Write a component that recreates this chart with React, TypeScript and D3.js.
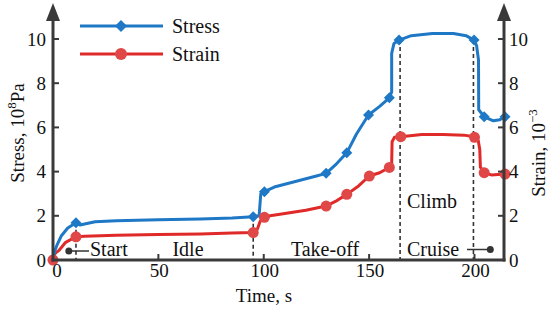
import * as d3 from "d3";

// stress curve (10^8 Pa) over time (s)
const stressTime = [0, 1, 2, 4, 7, 10.9, 12.8, 20, 30, 50, 70, 85, 95, 97.8, 98.6, 100.3, 105, 115, 125, 129.6, 134, 139.4, 144, 149.7, 155, 159.6, 160.7, 160.7, 161.8, 164.2, 170, 180, 190, 196, 199.8, 201, 201.9, 202, 204.6, 209, 212, 214.5];
const stressVals = [0, 0.45, 0.7, 1.1, 1.45, 1.69, 1.58, 1.73, 1.78, 1.82, 1.86, 1.9, 1.96, 2.0, 3.0, 3.09, 3.3, 3.55, 3.8, 3.92, 4.3, 4.85, 5.7, 6.56, 6.95, 7.34, 7.6, 9.35, 9.8, 9.95, 10.15, 10.25, 10.25, 10.15, 9.95, 9.7, 9.05, 6.8, 6.48, 6.3, 6.35, 6.48];
const stressMarkT = [0, 10.9, 95, 100.3, 129.6, 139.4, 149.7, 159.6, 164.2, 199.8, 204.6, 214.5];
const stressMarkV = [0, 1.69, 1.96, 3.09, 3.92, 4.85, 6.56, 7.34, 9.95, 9.95, 6.48, 6.48];

// strain curve (10^-3)
const strainTime = [0, 1, 3, 6, 10.9, 15, 30, 50, 70, 85, 95, 97, 98.3, 100.3, 103, 110, 120, 129.6, 134, 139.4, 145, 150.1, 155, 159.6, 160.7, 160.9, 162, 165, 175, 185, 195, 200, 201.8, 202.5, 202.8, 204.6, 208, 214.5];
const strainVals = [0, 0.3, 0.45, 0.8, 1.05, 1.08, 1.12, 1.15, 1.18, 1.22, 1.24, 1.4, 1.75, 1.93, 2.0, 2.1, 2.25, 2.44, 2.65, 2.97, 3.35, 3.8, 3.95, 4.19, 4.35, 5.35, 5.55, 5.58, 5.68, 5.68, 5.65, 5.58, 5.4, 5.0, 4.2, 3.95, 3.85, 3.89];
const strainMarkT = [0, 10.9, 95, 100.3, 129.6, 139.4, 150.1, 159.6, 165, 200, 204.6, 214.5];
const strainMarkV = [0, 1.05, 1.24, 1.93, 2.44, 2.97, 3.8, 4.19, 5.58, 5.55, 3.95, 3.89];

// phase boundaries
const dashTimes = [10.9, 95, 164.7, 199.5];
const dashTops = [1.69, 1.96, 9.95, 9.95];

const xTicks = [0, 50, 100, 150, 200];
const yTicks = [0, 2, 4, 6, 8, 10];

const W = 550;
const H = 312;
const BLUE = "#1e78c6";
const RED = "#e02a2a";
const RED_MARK = "#e04848";
const AXIS = "#3a3a3a";
const FONT = "'Liberation Serif', 'Times New Roman', serif";

const x = d3.scaleLinear().domain([0, 214]).range([53, 504]);
const y = d3.scaleLinear().domain([0, 10]).range([260, 39]);

const line = d3
  .line<[number, number]>()
  .x((d) => x(d[0]))
  .y((d) => y(d[1]))
  .curve(d3.curveMonotoneX);

const linePlain = d3
  .line<[number, number]>()
  .x((d) => x(d[0]))
  .y((d) => y(d[1]));

const zip = (a: number[], b: number[]) => a.map((v, i) => [v, b[i]] as [number, number]);

const diamond = (cx: number, cy: number, r: number) =>
  `M${cx},${cy - r}L${cx + r},${cy}L${cx},${cy + r}L${cx - r},${cy}Z`;

const App = () => {
  const stress = zip(stressTime, stressVals);
  const strain = zip(strainTime, strainVals);
  const yTop = 20;

  return (
    <svg width={W} height={H} style={{ position: "absolute", left: 0, top: 0 }} fontFamily={FONT}>
      <rect width={W} height={H} fill="#fff" />

      {/* phase boundaries */}
      {dashTimes.map((t, i) => (
        <line
          key={i}
          x1={x(t)}
          x2={x(t)}
          y1={y(dashTops[i])}
          y2={y(0)}
          stroke="#333"
          strokeWidth={1.6}
          strokeDasharray="4,3"
        />
      ))}

      {/* curves */}
      <path d={linePlain(strain) || ""} fill="none" stroke={RED} strokeWidth={3} strokeLinejoin="round" />
      <path d={linePlain(stress) || ""} fill="none" stroke={BLUE} strokeWidth={3} strokeLinejoin="round" />

      {stressMarkT.map((t, i) => (
        <path key={"s" + i} d={diamond(x(t), y(stressMarkV[i]), 5.5)} fill={BLUE} />
      ))}
      {strainMarkT.map((t, i) => (
        <circle key={"e" + i} cx={x(t)} cy={y(strainMarkV[i])} r={5.5} fill={RED_MARK} />
      ))}

      {/* axes */}
      <line x1={x(0)} x2={x(0)} y1={y(0) + 1.5} y2={yTop} stroke={AXIS} strokeWidth={3} />
      <line x1={x(214)} x2={x(214)} y1={y(0) + 1.5} y2={yTop} stroke={AXIS} strokeWidth={3} />
      <line x1={x(0) - 1.5} x2={x(214) + 1.5} y1={y(0)} y2={y(0)} stroke={AXIS} strokeWidth={3} />
      <path d={`M${x(0)},3L${x(0) + 7},${yTop + 1}L${x(0) - 7},${yTop + 1}Z`} fill={AXIS} />
      <path d={`M${x(214)},3L${x(214) + 7},${yTop + 1}L${x(214) - 7},${yTop + 1}Z`} fill={AXIS} />

      {yTicks.map((v) => (
        <g key={"y" + v}>
          <line x1={x(0)} x2={x(0) + 6} y1={y(v)} y2={y(v)} stroke={AXIS} strokeWidth={2} />
          <line x1={x(214)} x2={x(214) - 6} y1={y(v)} y2={y(v)} stroke={AXIS} strokeWidth={2} />
          <text x={x(0) - 7} y={y(v) + 6.5} textAnchor="end" fontSize={19} fill="#111">
            {v}
          </text>
          <text x={x(214) + 5} y={y(v) + 6.5} textAnchor="start" fontSize={19} fill="#111">
            {v}
          </text>
        </g>
      ))}
      {xTicks.map((v) => (
        <g key={"x" + v}>
          <line x1={x(v)} x2={x(v)} y1={y(0)} y2={y(0) - 6} stroke={AXIS} strokeWidth={2} />
          <text x={x(v) + (v === 0 ? 4 : 1)} y={277} textAnchor="middle" fontSize={19} fill="#111">
            {v}
          </text>
        </g>
      ))}

      {/* axis titles */}
      <text x={264} y={302} textAnchor="middle" fontSize={19} fill="#111">
        Time, s
      </text>
      <text transform="translate(24,133) rotate(-90)" textAnchor="middle" fontSize={19} fill="#111">
        Stress, 10<tspan fontSize={13} dy={-8}>8</tspan>
        <tspan dy={8}>Pa</tspan>
      </text>
      <text transform="translate(545,153) rotate(-90)" textAnchor="middle" fontSize={19} fill="#111">
        Strain, 10<tspan fontSize={13} dy={-8}>−3</tspan>
      </text>

      {/* phase labels */}
      <circle cx={x(7.5)} cy={251} r={3.5} fill="#333" />
      <line x1={x(7.5)} x2={89} y1={251} y2={251} stroke="#333" strokeWidth={1.5} />
      <text x={90} y={256} fontSize={20} fill="#111">Start</text>
      <text x={188} y={256} textAnchor="middle" fontSize={20} fill="#111">Idle</text>
      <text x={325} y={256} textAnchor="middle" fontSize={20} fill="#111">Take-off</text>
      <text x={407} y={208} fontSize={20} fill="#111">Climb</text>
      <text x={407} y={256} fontSize={20} fill="#111">Cruise</text>
      <line x1={467} x2={x(207.5)} y1={249.5} y2={249.5} stroke="#333" strokeWidth={1.5} />
      <circle cx={x(207.5)} cy={249.5} r={3.5} fill="#333" />

      {/* legend */}
      <line x1={80} x2={163} y1={26} y2={26} stroke={BLUE} strokeWidth={3} />
      <path d={diamond(121, 26, 6)} fill={BLUE} />
      <text x={172} y={32.5} fontSize={20} fill="#111">Stress</text>
      <line x1={80} x2={163} y1={54} y2={54} stroke={RED} strokeWidth={3} />
      <circle cx={121} cy={54} r={6} fill={RED_MARK} />
      <text x={172} y={60.5} fontSize={20} fill="#111">Strain</text>
    </svg>
  );
};

export default App;
